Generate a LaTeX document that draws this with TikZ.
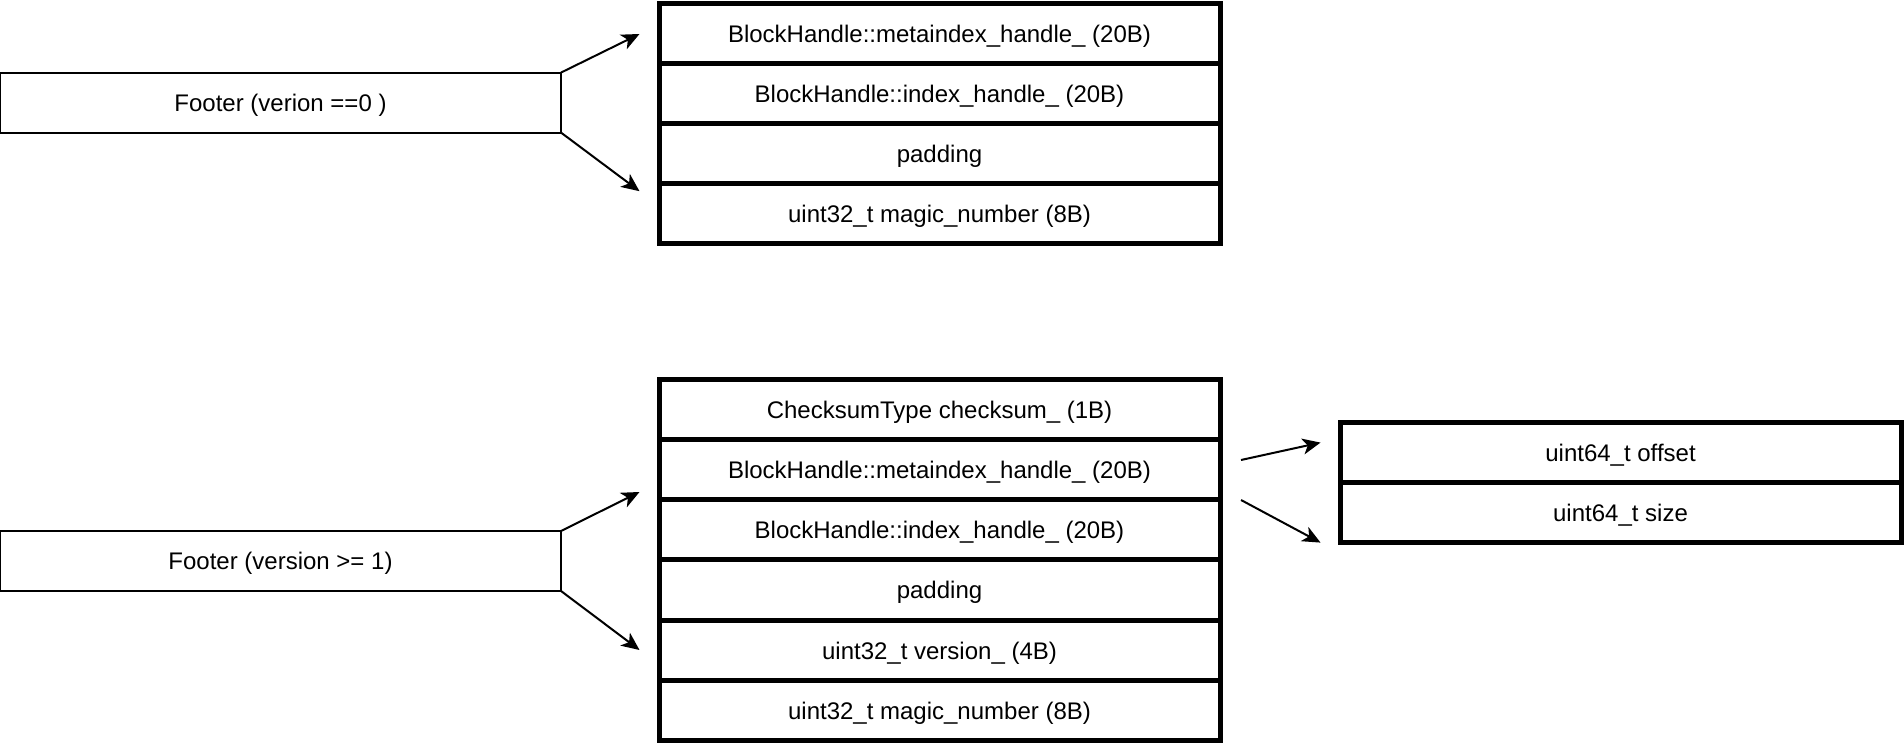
\documentclass[tikz,border=0pt]{standalone}
\usepackage{fontspec}
\setsansfont{Liberation Sans}
\tikzset{every picture/.style={/utils/exec={\sffamily}}}
\usetikzlibrary{arrows.meta}
\usetikzlibrary{positioning}

\tikzset{
  field/.style={draw, line width=2.5pt, outer sep=0pt, inner sep=0pt,
    minimum width=280.5pt, minimum height=30pt, text height=10pt, text depth=1pt,
    font=\fontsize{12pt}{14pt}\selectfont},
  footer/.style={draw, line width=1pt, outer sep=0pt, inner sep=0pt,
    minimum width=280.5pt, minimum height=30pt, text height=10pt, text depth=1pt,
    font=\fontsize{12pt}{14pt}\selectfont},
  ptr/.style={-{Stealth[length=9pt,width=8pt,inset=2.5pt]}, line width=1pt}
}

\begin{document}
\begin{tikzpicture}[x=1pt,y=1pt]
  \useasboundingbox (0,0) rectangle (952,372);

  % version 0 footer
  \node [footer] (foot0) at (140.25,320.7) {Footer (verion ==0 )};
  \foreach \txt [count=\i] in {BlockHandle::metaindex\_handle\_ (20B),
      BlockHandle::index\_handle\_ (20B), padding, uint32\_t magic\_number (8B)} {
    \node [field] (v0r\i) at (469.75,385-30*\i) {\txt};
  }
  \coordinate (v0in1) at ([xshift=-9.75pt]v0r1.west);
  \coordinate (v0in2) at ([xshift=-9.75pt,yshift=-3.6pt]v0r3.south west);
  \draw [ptr] (foot0.north east) -- (v0in1);
  \draw [ptr] (foot0.south east) -- (v0in2);

  % version >= 1 footer
  \node [footer] (foot1) at (140.25,91.5) {Footer (version >= 1)};
  \foreach \txt [count=\i] in {ChecksumType checksum\_ (1B),
      BlockHandle::metaindex\_handle\_ (20B), BlockHandle::index\_handle\_ (20B),
      padding, uint32\_t version\_ (4B), uint32\_t magic\_number (8B)} {
    \node [field] (v1r\i) at (469.75,197-30*\i) {\txt};
  }
  \coordinate (v1in1) at ([xshift=-9.75pt,yshift=4pt]v1r2.south west);
  \coordinate (v1in2) at ([xshift=-9.75pt]v1r5.west);
  \draw [ptr] (foot1.north east) -- (v1in1);
  \draw [ptr] (foot1.south east) -- (v1in2);

  % block handle
  \node [field] (off) at (810.25,145.7) {uint64\_t offset};
  \node [field, below=0pt of off] (sz) {uint64\_t size};
  \coordinate (bhout1) at ([xshift=10.5pt,yshift=5pt]v1r2.east);
  \coordinate (bhout2) at ([xshift=10.5pt]v1r2.south east);
  \coordinate (bhin1) at ([xshift=-9.75pt,yshift=5pt]off.west);
  \coordinate (bhin2) at ([xshift=-9.75pt,yshift=-15pt]sz.west);
  \draw [ptr] (bhout1) -- (bhin1);
  \draw [ptr] (bhout2) -- (bhin2);
\end{tikzpicture}
\end{document}
